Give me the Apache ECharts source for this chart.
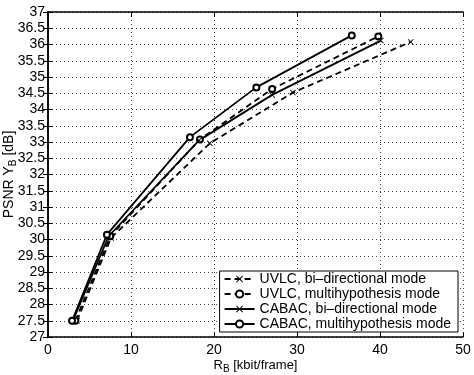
<!DOCTYPE html>
<html>
<head>
<meta charset="utf-8">
<script src="https://cdn.jsdelivr.net/npm/echarts@6/dist/echarts.min.js"></script>
<style>
  html, body { margin: 0; padding: 0; background: #fff; }
  #chart { width: 474px; height: 375px; }
</style>
</head>
<body>
<div id="chart"></div>
<script>
// rate (kbit/frame) and PSNR (dB)
const uvlcBiX = [3.5, 7.6, 19.5, 29.5, 43.7];
const uvlcBiY = [27.5, 30.05, 32.96, 34.52, 36.08];
const uvlcMhX = [3.3, 7.5, 18.3, 27.0, 39.8];
const uvlcMhY = [27.5, 30.1, 33.08, 34.63, 36.25];
const cabacBiX = [3.0, 7.3, 18.2, 27.0, 40.1];
const cabacBiY = [27.5, 30.1, 33.05, 34.45, 36.12];
const cabacMhX = [2.9, 7.1, 17.1, 25.1, 36.6];
const cabacMhY = [27.5, 30.15, 33.15, 34.68, 36.28];

const legendNames = [
  "UVLC, bi\u2013directional mode",
  "UVLC, multihypothesis mode",
  "CABAC, bi\u2013directional mode",
  "CABAC, multihypothesis mode"
];

const font = "Liberation Sans";
const crossIcon = "path://M0,1L1,0L5,4L9,0L10,1L6,5L10,9L9,10L5,6L1,10L0,9L4,5Z";

const zip = (xs, ys) => xs.map((x, i) => [x, ys[i]]);

function makeSeries(name, xs, ys, dashed, circle) {
  return {
    name,
    type: "line",
    data: zip(xs, ys),
    symbol: circle ? "emptyCircle" : crossIcon,
    symbolSize: 6,
    showSymbol: true,
    lineStyle: { color: "#000", width: 1.8, type: dashed ? [6, 4] : "solid" },
    itemStyle: { color: "#000", borderColor: "#000", borderWidth: circle ? 1.5 : 0 },
    emphasis: { disabled: true },
    z: 3
  };
}

const chart = echarts.init(document.getElementById("chart"));

const gridLine = { show: true, lineStyle: { color: "#444", width: 1, type: [1, 3] } };
const edge = { show: true, lineStyle: { color: "#000", width: 1.5 } };
const tickIn = { show: true, inside: true, length: 5, lineStyle: { color: "#000", width: 1 } };

chart.setOption({
  animation: false,
  backgroundColor: "#fff",
  textStyle: { fontFamily: font },
  grid: { left: 48, right: 11, top: 12, bottom: 38, outerBoundsMode: "none", containLabel: false },
  legend: {
    data: legendNames,
    orient: "vertical",
    right: 16,
    bottom: 43,
    backgroundColor: "#fff",
    borderColor: "#000",
    borderWidth: 1,
    borderRadius: 0,
    padding: [1, 7, 1, 4],
    itemGap: 1,
    itemWidth: 30,
    itemHeight: 9,
    textStyle: { fontFamily: font, fontSize: 14, color: "#000" }
  },
  xAxis: [
    {
      type: "value",
      min: 0, max: 50, interval: 10,
      position: "bottom",
      axisLine: edge,
      axisTick: tickIn,
      splitLine: gridLine,
      axisLabel: { color: "#000", fontSize: 14, margin: 6, fontFamily: font },
      name: "{a|R}{b|B}{a| [kbit/frame]}",
      nameLocation: "middle",
      nameGap: 19,
      nameMoveOverlap: false,
      nameTextStyle: {
        rich: {
          a: { fontSize: 13, color: "#000", fontFamily: font },
          b: { fontSize: 10, color: "#000", fontFamily: font, padding: [8, 0, 0, 0] }
        }
      }
    },
    {
      type: "value",
      min: 0, max: 50, interval: 10,
      position: "top",
      axisLine: edge,
      axisTick: tickIn,
      splitLine: { show: false },
      axisLabel: { show: false }
    }
  ],
  yAxis: [
    {
      type: "value",
      min: 27, max: 37, interval: 0.5,
      position: "left",
      axisLine: edge,
      axisTick: tickIn,
      splitLine: gridLine,
      axisLabel: { color: "#000", fontSize: 14, margin: 3, fontFamily: font },
      name: "{a|PSNR Y}{b|B}{a| [dB]}",
      nameLocation: "middle",
      nameRotate: 90,
      nameGap: 30,
      nameMoveOverlap: false,
      nameTextStyle: {
        rich: {
          a: { fontSize: 14, color: "#000", fontFamily: font },
          b: { fontSize: 10, color: "#000", fontFamily: font, padding: [8, 0, 0, 0] }
        }
      }
    },
    {
      type: "value",
      min: 27, max: 37, interval: 0.5,
      position: "right",
      axisLine: edge,
      axisTick: tickIn,
      splitLine: { show: false },
      axisLabel: { show: false }
    }
  ],
  series: [
    makeSeries(legendNames[0], uvlcBiX, uvlcBiY, true, false),
    makeSeries(legendNames[1], uvlcMhX, uvlcMhY, true, true),
    makeSeries(legendNames[2], cabacBiX, cabacBiY, false, false),
    makeSeries(legendNames[3], cabacMhX, cabacMhY, false, true)
  ]
});
</script>
</body>
</html>
